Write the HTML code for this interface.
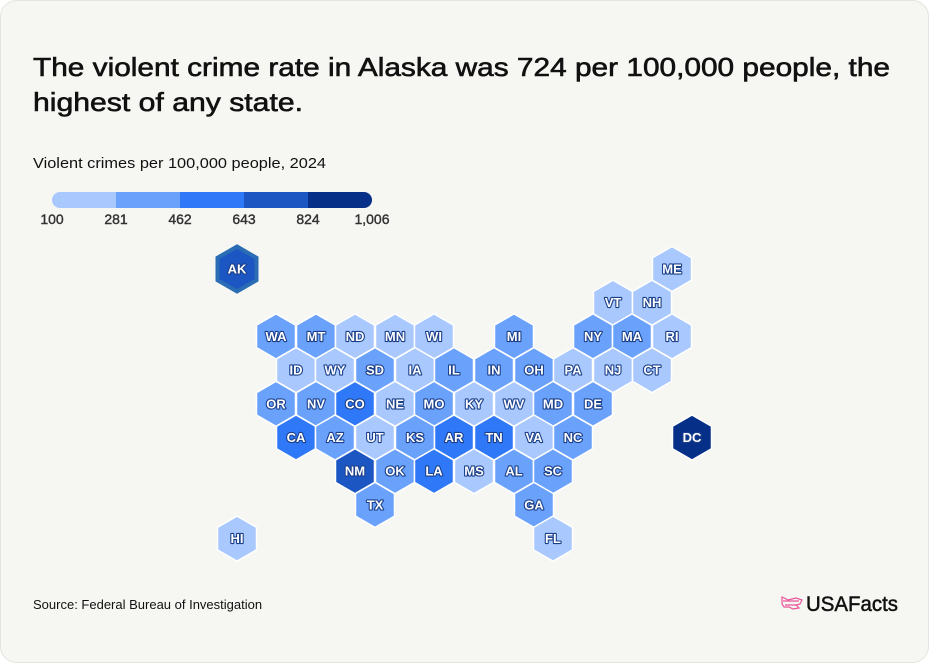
<!DOCTYPE html>
<html><head><meta charset="utf-8"><style>
html,body{margin:0;padding:0;background:#fff;}
svg{display:block;font-family:"Liberation Sans",Arial,sans-serif;}
</style></head><body>
<svg width="929" height="663" viewBox="0 0 929 663" xmlns="http://www.w3.org/2000/svg">
<defs>
<polygon id="h" points="0,-22.5 19.5,-11.25 19.5,11.25 0,22.5 -19.5,11.25 -19.5,-11.25"/>
<clipPath id="lb"><rect x="52" y="192" width="320" height="16" rx="8"/></clipPath>
</defs>
<rect x="0.5" y="0.5" width="928" height="662" rx="16" fill="#f6f6f2" stroke="#e4e4df"/>
<g fill="#111" stroke="#111" stroke-width="0.6">
<text x="33" y="76" font-size="26" textLength="857" lengthAdjust="spacingAndGlyphs">The violent crime rate in Alaska was 724 per 100,000 people, the</text>
<text x="33" y="111" font-size="26" textLength="270" lengthAdjust="spacingAndGlyphs">highest of any state.</text>
</g>
<text x="33" y="168" font-size="15" fill="#111" textLength="293" lengthAdjust="spacingAndGlyphs">Violent crimes per 100,000 people, 2024</text>
<g clip-path="url(#lb)">
<rect x="52" y="192" width="64" height="16" fill="#a9c8fd"/>
<rect x="116" y="192" width="64" height="16" fill="#6aa1fb"/>
<rect x="180" y="192" width="64" height="16" fill="#2f78f7"/>
<rect x="244" y="192" width="64" height="16" fill="#1b56c3"/>
<rect x="308" y="192" width="64" height="16" fill="#063088"/>
</g>
<g font-size="14" fill="#333" stroke="#333" stroke-width="0.4" text-anchor="middle">
<text x="52" y="224">100</text><text x="116" y="224">281</text><text x="180" y="224">462</text><text x="244" y="224">643</text><text x="308" y="224">824</text><text x="372" y="224">1,006</text>
</g>
<g id="map" stroke="#fff" stroke-width="1.5"></g>
<g id="lab" font-size="13" font-weight="bold" text-anchor="middle" fill="#fff" stroke="#1a3f8a" stroke-width="2.2" paint-order="stroke" stroke-linejoin="round"></g>
<text x="33" y="609" font-size="13" fill="#111">Source: Federal Bureau of Investigation</text>
<g fill="none" stroke="#e8559a" stroke-width="1.2"><path d="M782 597 l6 3 l8 -2 l6 2 l-2 4 l-4 1 l3 3 l-6 1 l-4 -2 l-5 0 l-2 -3 z"/><path d="M783 601 l16 0 M785 605 l12 0"/></g>
<text x="806" y="611" font-size="21" fill="#111" stroke="#111" stroke-width="0.5" textLength="92" lengthAdjust="spacingAndGlyphs">USAFacts</text>
<script>
var C=["#a9c8fd","#6aa1fb","#2f78f7","#1b56c3","#063088"];
var S=[["AK",237,0,3],["ME",672,0,0],["VT",613,1,0],["NH",652,1,0],
["WA",276,2,1],["MT",316,2,1],["ND",355,2,0],["MN",395,2,0],["WI",434,2,0],["MI",514,2,1],["NY",593,2,1],["MA",632,2,1],["RI",672,2,0],
["ID",296,3,0],["WY",335,3,0],["SD",375,3,1],["IA",415,3,0],["IL",454,3,1],["IN",494,3,1],["OH",534,3,1],["PA",573,3,0],["NJ",613,3,0],["CT",652,3,0],
["OR",276,4,1],["NV",316,4,1],["CO",355,4,2],["NE",395,4,0],["MO",434,4,1],["KY",474,4,0],["WV",514,4,0],["MD",553,4,1],["DE",593,4,1],
["CA",296,5,2],["AZ",335,5,1],["UT",375,5,0],["KS",415,5,1],["AR",454,5,2],["TN",494,5,2],["VA",534,5,0],["NC",573,5,1],["DC",692,5,4],
["NM",355,6,3],["OK",395,6,1],["LA",434,6,2],["MS",474,6,0],["AL",514,6,1],["SC",553,6,1],
["TX",375,7,1],["GA",534,7,1],["HI",237,8,0],["FL",553,8,0]];
var ns="http://www.w3.org/2000/svg",m=document.getElementById("map"),l=document.getElementById("lab");
S.forEach(function(s){var y=269+s[2]*33.7;
var u=document.createElementNS(ns,"use");u.setAttribute("href","#h");u.setAttribute("x",s[1]);u.setAttribute("y",y);u.setAttribute("fill",C[s[3]]);
if(s[0]=="AK"){u.setAttribute("stroke","#2a6db5");u.setAttribute("stroke-width","4");}
m.appendChild(u);
var t=document.createElementNS(ns,"text");t.setAttribute("x",s[1]);t.setAttribute("y",y+4.5);t.textContent=s[0];l.appendChild(t);});
</script>
</svg>
</body></html>
